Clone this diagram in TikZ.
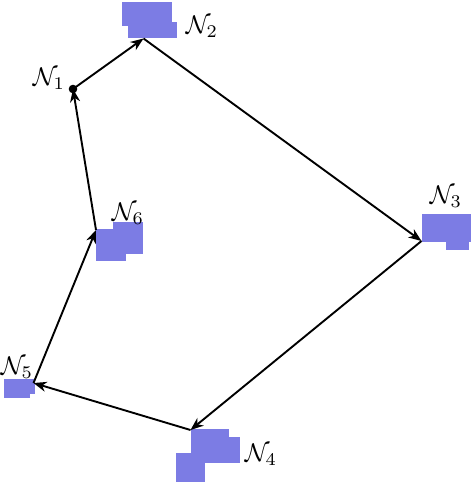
\documentclass[tikz,border=0pt]{standalone}
\usetikzlibrary{arrows.meta}
\definecolor{blob}{RGB}{124,124,228}
\tikzset{
  edge/.style={line width=1.9pt,-{Stealth[length=13pt,width=10pt,inset=4pt]}},
  lbl/.style={inner sep=0pt,scale=2.55},
  blobfill/.style={fill=blob,draw=none}
}
\begin{document}
\begin{tikzpicture}[x=1pt,y=-1pt]
\useasboundingbox (0,0) rectangle (474,482);
% blobs
\fill[blobfill] (122,2) rectangle (172,26);
\fill[blobfill] (128,22) rectangle (177,38);
\fill[blobfill] (422,214) rectangle (471,241.5);
\fill[blobfill] (446,240) rectangle (469,250);
\fill[blobfill] (96,229) rectangle (126,261);
\fill[blobfill] (113,222) rectangle (143,254);
\fill[blobfill] (4,379) rectangle (35,394);
\fill[blobfill] (4,393) rectangle (30,398);
\fill[blobfill] (191,429) rectangle (229,463);
\fill[blobfill] (176,453) rectangle (205,482);
\fill[blobfill] (223,437) rectangle (240,463);
% node points
\coordinate (n1) at (73,89);
\coordinate (n2) at (143.5,38.5);
\coordinate (n3) at (421.5,241);
\coordinate (n4) at (190.5,430);
\coordinate (n5) at (33.5,383);
\coordinate (n6) at (96,230);
\fill (n1) circle (4.3pt);
% labels
\node[lbl] (l1) at (49,79) {$\mathcal{N}_1$};
\node[lbl] (l2) at (202,27) {$\mathcal{N}_2$};
\node[lbl] (l3) at (446,197) {$\mathcal{N}_3$};
\node[lbl] (l4) at (261,455) {$\mathcal{N}_4$};
\node[lbl] (l5) at (17,368) {$\mathcal{N}_5$};
\node[lbl] (l6) at (128,214) {$\mathcal{N}_6$};
% edges
\draw[edge] (n1) -- (n2);
\draw[edge] (n2) -- (n3);
\draw[edge] (n3) -- (n4);
\draw[edge] (n4) -- (n5);
\draw[edge] (n5) -- (n6);
\draw[edge] (n6) -- (n1);
\end{tikzpicture}
\end{document}
